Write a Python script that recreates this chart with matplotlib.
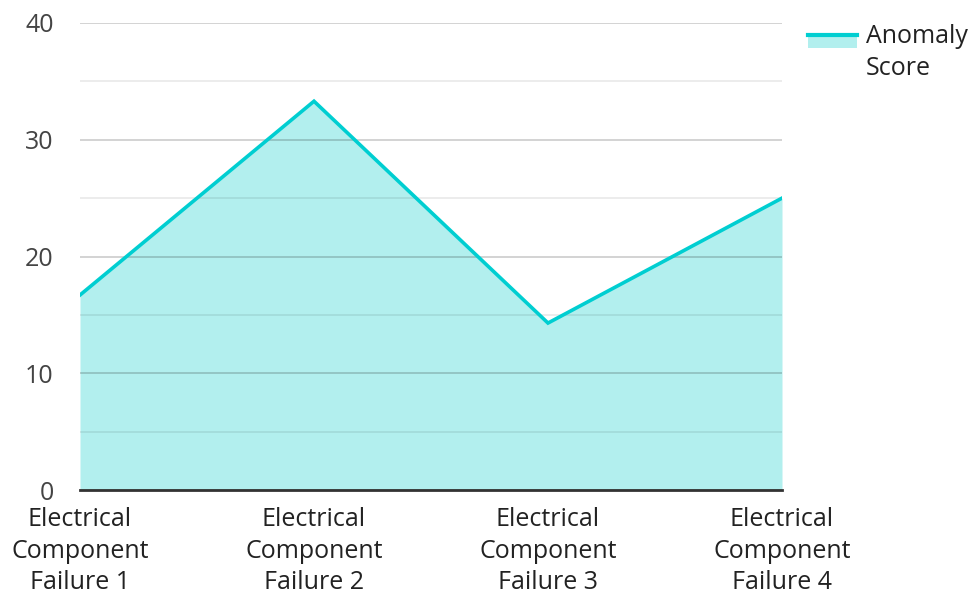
import matplotlib
matplotlib.use("Agg")
import matplotlib.pyplot as plt
from matplotlib.patches import Rectangle
from matplotlib.lines import Line2D

plt.rcParams['font.family'] = ['Open Sans', 'DejaVu Sans']

# data
categories = ["Electrical\nComponent\nFailure 1", "Electrical\nComponent\nFailure 2",
              "Electrical\nComponent\nFailure 3", "Electrical\nComponent\nFailure 4"]
scores = [16.7, 33.3, 14.3, 25.0]
series_name = "Anomaly\nScore"

line_color = "#00CED1"
fill_color = "#B2EFEE"

fig = plt.figure(figsize=(9.72, 5.94), dpi=100)
ax = fig.add_axes([80/972, (594-490)/594, 702/972, 467/594])

x = list(range(len(categories)))
ax.fill_between(x, scores, 0, color=fill_color, lw=0, zorder=1)
ax.plot(x, scores, color=line_color, lw=2.6, zorder=3, solid_joinstyle="miter")

ax.set_xlim(0, len(categories) - 1)
ax.set_ylim(0, 40)
ax.set_yticks([0, 10, 20, 30, 40])
ax.set_yticks([5, 15, 25, 35], minor=True)
ax.grid(axis="y", which="major", color="#000000", alpha=0.2, lw=1.2, zorder=2)
ax.grid(axis="y", which="minor", color="#000000", alpha=0.09, lw=1.2, zorder=2)
ax.set_axisbelow(False)

ax.set_xticks(x)
ax.set_xticklabels(categories, fontsize=18, color="#222222", linespacing=1.36)
ax.tick_params(axis="x", length=0, pad=12)
ax.tick_params(axis="y", which="both", length=0, pad=19, labelsize=18, labelcolor="#444444")

for s in ["top", "right", "left"]:
    ax.spines[s].set_visible(False)
ax.spines["bottom"].set_color("#333333")
ax.spines["bottom"].set_linewidth(2)
ax.spines["bottom"].set_zorder(4)

# legend drawn by hand
fig.patches.append(Rectangle((808/972, 1 - 48/594), 49/972, 14/594,
                             transform=fig.transFigure, color=fill_color, lw=0))
fig.lines.append(Line2D([808/972, 857/972], [1 - 35/594, 1 - 35/594],
                        transform=fig.transFigure, color=line_color, lw=3))
fig.text(866/972, 1 - 24/594, series_name, fontsize=18, color="#222222",
         va="top", ha="left", linespacing=1.38)

fig.savefig("out.png", dpi=100, facecolor="white")
